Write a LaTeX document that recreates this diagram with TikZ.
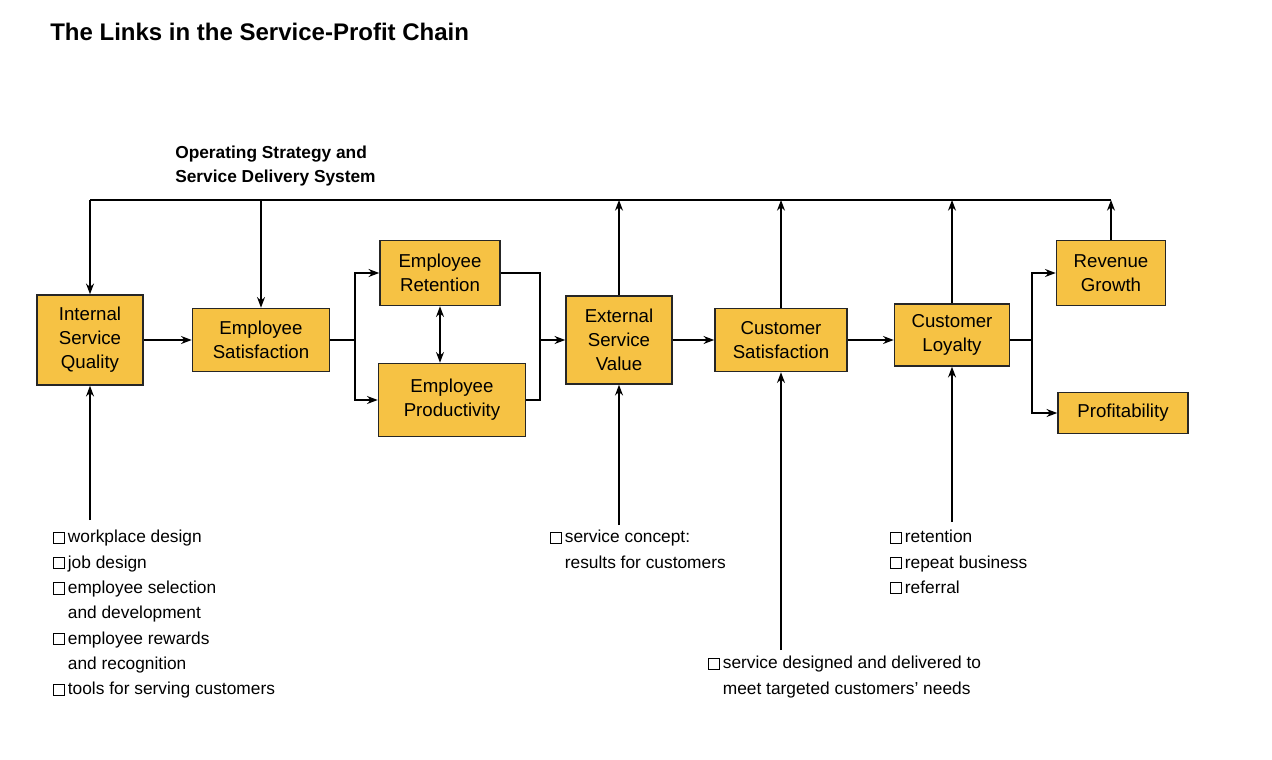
\documentclass[tikz,border=0pt]{standalone}
\usepackage{fontspec}
\setmainfont{Liberation Sans}
\usetikzlibrary{arrows.meta}
\definecolor{boxfill}{RGB}{246,194,68}
\newcommand\bx{\fboxrule=0.5pt\fboxsep=0pt\fbox{\rule{0pt}{0.6em}\hspace{0.6em}}\,}
\tikzset{
  link/.style={draw=black!85,line width=1.2pt,fill=boxfill,align=center,inner sep=1pt,font=\fontsize{14}{18}\selectfont},
  flow/.style={line width=0.9pt,-{Stealth[length=8pt,width=6pt]}},
  note/.style={anchor=north west,align=left,inner sep=0pt,font=\fontsize{13}{19}\selectfont}
}
\begin{document}
\begin{tikzpicture}[x=0.75pt,y=0.75pt,yscale=-1]
\useasboundingbox (0,0) rectangle (1272,760);

% Title
\node[anchor=west,inner sep=0pt,font=\bfseries\fontsize{18}{22}\selectfont] (title) at (50,32) {The Links in the Service-Profit Chain};
\node[anchor=north west,align=left,inner sep=0pt,font=\bfseries\fontsize{13}{18}\selectfont] (strategy) at (175,146) {Operating Strategy and\\Service Delivery System};

% Boxes
\node[link,minimum width=79.5pt,minimum height=67.5pt] (isq) at (90,340) {Internal\\Service\\Quality};
\node[link,minimum width=102.75pt,minimum height=47.25pt] (es) at (261,340) {Employee\\Satisfaction};
\node[link,minimum width=90pt,minimum height=48.75pt] (er) at (440,273) {Employee\\Retention};
\node[link,minimum width=110.25pt,minimum height=54.75pt] (ep) at (452,400) {Employee\\Productivity};
\node[link,minimum width=79.5pt,minimum height=66pt] (esv) at (619,340) {External\\Service\\Value};
\node[link,minimum width=99pt,minimum height=47.25pt] (cs) at (781,340) {Customer\\Satisfaction};
\node[link,minimum width=86.25pt,minimum height=46.5pt] (cl) at (952,335) {Customer\\Loyalty};
\node[link,minimum width=81.75pt,minimum height=48.75pt] (rg) at (1111,273) {Revenue\\Growth};
\node[link,minimum width=97.5pt,minimum height=30.75pt] (prof) at (1123,413) {Profitability};

% Top line
\coordinate (tl) at (90,200);
\coordinate (tr) at (1111,200);
\draw[line width=0.9pt] (tl) -- (tr);
\draw[flow] (tl) -- (isq.north);
\draw[flow] (261,200) -- (es.north);
\foreach \n in {esv,cs,cl,rg}
  \draw[flow] (\n.north) -- (\n.north |- tl);

% Chain
\draw[flow] (isq) -- (es);
\coordinate (split) at (355,340);
\draw[line width=0.9pt] (es.east) -- (split);
\draw[flow] (split) |- (er.west);
\draw[flow] (split) |- (ep.west);
\draw[line width=0.9pt,{Stealth[length=8pt,width=6pt]}-{Stealth[length=8pt,width=6pt]}] (er.south) -- (er.south |- ep.north);
\coordinate (join) at (540,340);
\draw[line width=0.9pt] (er.east) -| (join);
\draw[line width=0.9pt] (ep.east) -| (join);
\draw[flow] (join) -- (esv.west);
\draw[flow] (esv) -- (cs);
\draw[flow] (cs.east) -- (cs.east -| cl.west);
\coordinate (fork) at (1032,340);
\draw[line width=0.9pt] (cl.east |- fork) -- (fork);
\draw[flow] (fork) |- (rg.west);
\draw[flow] (fork) |- (prof.west);

% Notes
\node[note] (n1) at (53,530) {\bx workplace design\\\bx job design\\\bx employee selection\\\phantom{\bx}and development\\\bx employee rewards\\\phantom{\bx}and recognition\\\bx tools for serving customers};
\node[note] (n2) at (550,530) {\bx service concept:\\\phantom{\bx}results for customers};
\node[note] (n3) at (708,656) {\bx service designed and delivered to\\\phantom{\bx}meet targeted customers' needs};
\node[note] (n4) at (890,530) {\bx retention\\\bx repeat business\\\bx referral};
\coordinate (a1) at (90,520);
\coordinate (a2) at (619,525);
\coordinate (a3) at (781,650);
\coordinate (a4) at (952,522);
\draw[flow] (a1) -- (isq.south);
\draw[flow] (a2) -- (esv.south);
\draw[flow] (a3) -- (cs.south);
\draw[flow] (a4) -- (cl.south);
\end{tikzpicture}
\end{document}
